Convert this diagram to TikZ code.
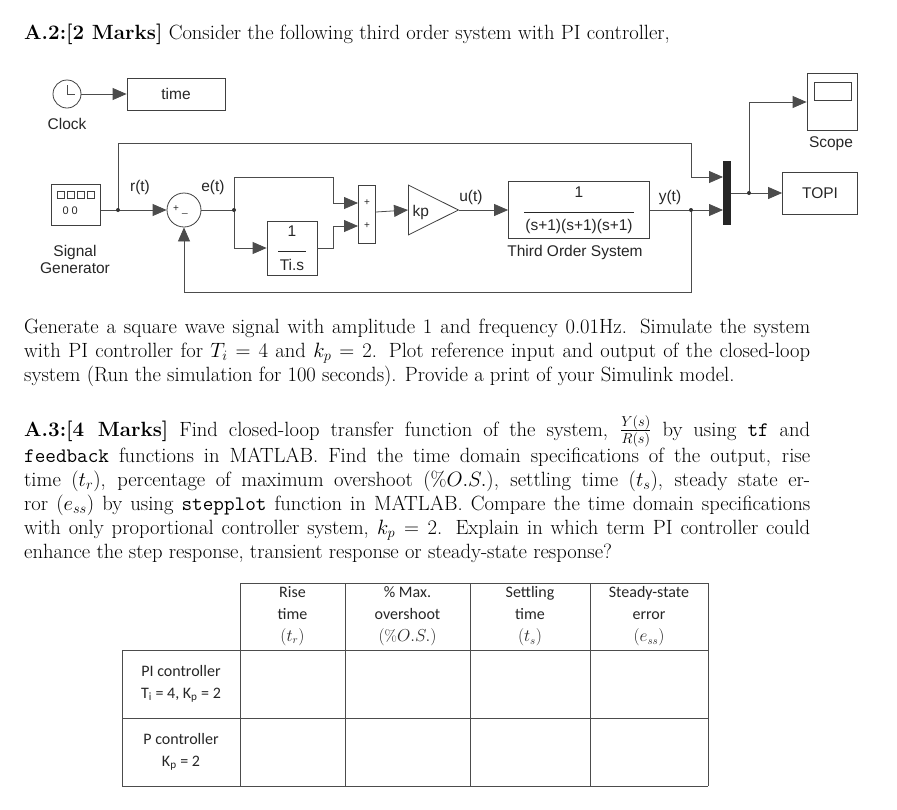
\documentclass[tikz,border=0pt]{standalone}
\usepackage{fontspec}
\usepackage{amsmath}
\usetikzlibrary{arrows.meta,positioning,shapes.geometric}
\newfontfamily\simfont{Liberation Sans}
\newfontfamily\tabfont{Carlito}
\begin{document}
\begin{tikzpicture}[x=1pt,y=-1pt,
        blk/.style={draw=black!75, thick, inner sep=0pt},
        lbl/.style={font=\simfont\fontsize{15.5}{17}\selectfont, text=black!85},
        tabtxt/.style={font=\tabfont\fontsize{16}{22}\selectfont, text=black!85, align=center},
        body/.style={font=\fontsize{20.6}{24}\selectfont, text width=786pt, align=justify, inner sep=0pt, anchor=north west},
        sig/.style={draw=black!70, thick, -{Triangle[length=14pt,width=12pt]}},
        wire/.style={draw=black!70, thick},
]
        \useasboundingbox (0,0) rectangle (897,809);
        % question text
        \node[body] (qa) at (24,24) {\textbf{A.2:[2 Marks]} Consider the following third order system with PI controller,};
        \node[body] (qb) at (24,319) {Generate a square wave signal with amplitude 1 and frequency 0.01Hz. Simulate the system\linebreak with PI controller for $T_i=4$ and $k_p=2$. Plot reference input and output of the closed-loop\linebreak system (Run the simulation for 100 seconds). Provide a print of your Simulink model.};
        \node[body] (qc) at (24,415) {\textbf{A.3:[4 Marks]} Find closed-loop transfer function of the system, $\frac{Y(s)}{R(s)}$ by using \texttt{tf} and\linebreak \texttt{feedback} functions in MATLAB. Find the time domain specifications of the output, rise\linebreak time $(t_r)$, percentage of maximum overshoot $(\%O.S.)$, settling time $(t_s)$, steady state er-\linebreak ror $(e_{ss})$ by using \texttt{stepplot} function in MATLAB. Compare the time domain specifications\linebreak with only proportional controller system, $k_p=2$. Explain in which term PI controller could\linebreak enhance the step response, transient response or steady-state response?};

        % simulink blocks
        \node[blk, circle, minimum size=28pt] (clock) at (67,94) {};
        \draw[wire] (clock.center) -- ++(0,-9) (clock.center) -- ++(8,0);
        \node[lbl] (clocklbl) at (67,124) {Clock};
        \node[blk, minimum width=98pt, minimum height=32pt, lbl] (time) at (176,94) {time};
        \node[blk, minimum width=49pt, minimum height=41pt] (gen) at (76,205) {};
        \foreach \i in {0,1,2,3} \draw[black!75] (57+\i*10,191) rectangle ++(7,7);
        \node[lbl, font=\simfont\fontsize{11}{11}\selectfont, anchor=west] (gentxt) at (59,211) {0 0};
        \node[lbl, align=center] (genlbl) at (75,259) {Signal\\Generator};
        \node[blk, circle, minimum size=34pt] (sum) at (184,210) {};
        \node[lbl, font=\simfont\fontsize{10}{10}\selectfont] at (176,209) {+};
        \node[lbl, font=\simfont\fontsize{10}{10}\selectfont] at (185,213) {\_};
        \node[blk, minimum width=50pt, minimum height=54pt, lbl, align=center] (integ) at (292,248) {1\\[-2pt]\rule{28pt}{0.6pt}\\[2pt]Ti.s};
        \node[blk, minimum width=17pt, minimum height=58pt] (add) at (367,214) {};
        \node[lbl, font=\simfont\fontsize{10}{10}\selectfont] at (367,203) {+};
        \node[lbl, font=\simfont\fontsize{10}{10}\selectfont] at (367,226) {+};
        \node[blk, isosceles triangle, isosceles triangle apex angle=53, minimum height=50pt, anchor=west] (gain) at (408,210) {};
        \node[lbl, anchor=west] at (409,212) {kp};
        \node[blk, minimum width=141pt, minimum height=57pt, lbl, align=center] (plant) at (579,210) {1\\[-2pt]\rule{110pt}{0.6pt}\\[1pt](s+1)(s+1)(s+1)};
        \node[lbl] (plantlbl) at (575,252) {Third Order System};
        \node[fill=black!85, minimum width=8pt, minimum height=64pt, inner sep=0pt] (mux) at (727,193) {};
        \node[blk, minimum width=75pt, minimum height=42pt, lbl] (topi) at (820,193) {TOPI};
        \node[blk, minimum width=50pt, minimum height=57pt] (scope) at (832,102) {};
        \draw[blk] (814,82) rectangle (851,100);
        \node[lbl] (scopelbl) at (831,144) {Scope};

        % signal labels
        \node[lbl] at (140,187) {r(t)};
        \node[lbl] at (213,187) {e(t)};
        \node[lbl] at (471,197) {u(t)};
        \node[lbl] at (670,197) {y(t)};

        % wires
        \coordinate (rj) at (118,210);
        \coordinate (ej) at (234,210);
        \coordinate (yj) at (691,210);
        \coordinate (mj) at (749,193);
        \draw[sig] (clock) -- (time);
        \draw[sig] (gen.east |- rj) -- (sum.west);
        \draw[sig] (rj) |- (691,143) |- (723,177);
        \draw[wire] (sum.east) -- (ej);
        \draw[sig] (ej) |- (333,177) |- (358,203);
        \draw[sig] (ej) |- (integ.west);
        \draw[sig] (integ.east) -| (333,226) -- (358,226);
        \draw[sig] (add.east |- 0,212) -- (gain.west);
        \draw[sig] (gain.apex) -- (plant.west);
        \draw[sig] (plant.east) -- (723,210);
        \draw[sig] (yj) |- (184,292) -- (sum.south);
        \draw[sig] (mux.east |- mj) -- (topi.west);
        \draw[sig] (mj) |- (scope.west);
        \fill[black!80] (rj) circle (2) (ej) circle (2) (yj) circle (2) (mj) circle (2);

        % table
        \draw[black!70, thick] (240,583) -- (708,583) (122,650) -- (708,650) (122,718) -- (708,718) (122,786) -- (708,786);
        \draw[black!70, thick] (122,650) -- (122,786);
        \foreach \x in {240,345,470,590,708} \draw[black!70, thick] (\x,583) -- (\x,786);
        \node[tabtxt] (h1) at (292.5,616) {Rise\\time\\$(t_r)$};
        \node[tabtxt] (h2) at (407.5,616) {\% Max.\\overshoot\\$(\%O.S.)$};
        \node[tabtxt] (h3) at (530,616) {Settling\\time\\$(t_s)$};
        \node[tabtxt] (h4) at (649,616) {Steady-state\\error\\$(e_{ss})$};
        \node[tabtxt] (r1) at (181,684) {PI controller\\T\textsubscript{i} = 4, K\textsubscript{p} = 2};
        \node[tabtxt] (r2) at (181,752) {P controller\\K\textsubscript{p} = 2};
\end{tikzpicture}
\end{document}
